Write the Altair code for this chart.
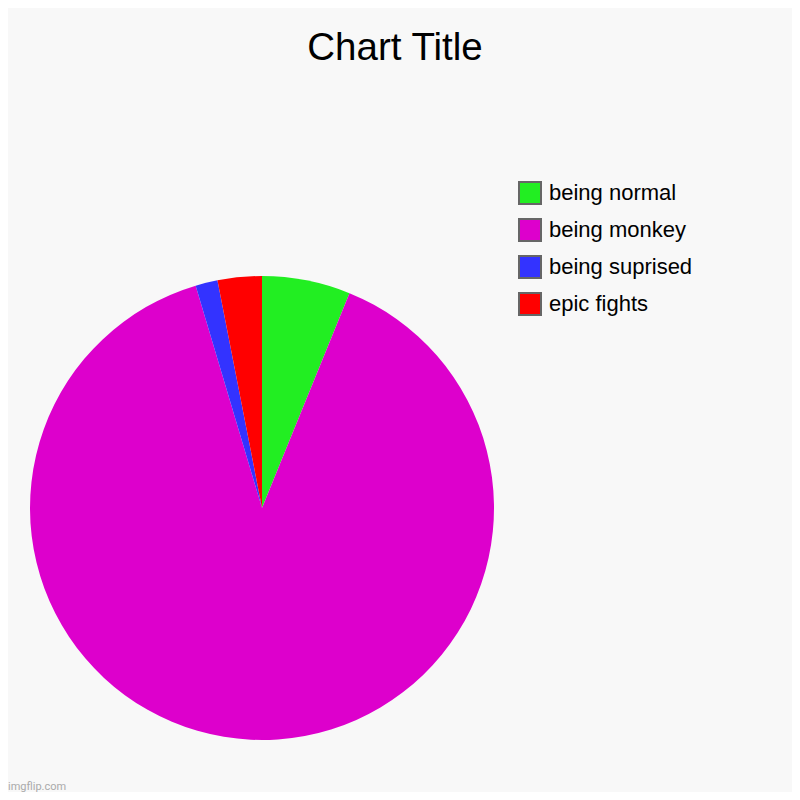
import pandas as pd
import altair as alt

# pie data
labels = ["being normal", "being monkey", "being suprised", "epic fights"]
values = [4, 58, 1, 2]
colors = ["#22ee22", "#dd00cc", "#3333ff", "#ff0000"]

chart_title = "Chart Title"
watermark = "imgflip.com"

df = pd.DataFrame({"label": labels, "value": values, "rank": list(range(len(labels)))})

pie = alt.Chart(df).mark_arc(radius=232).encode(
    theta=alt.Theta("value:Q", stack=True),
    color=alt.Color(
        "label:N",
        scale=alt.Scale(domain=labels, range=colors),
        legend=alt.Legend(
            title=None, orient="none", legendX=510, legendY=173,
            symbolType="square", symbolSize=484,
            symbolStrokeColor="#666666", symbolStrokeWidth=2,
            labelFontSize=22, labelFont="Liberation Sans", labelColor="#000000",
            labelOffset=7, rowPadding=7,
        ),
    ),
    order=alt.Order("rank:Q"),
    x=alt.value(254),
    y=alt.value(500),
)

title = alt.Chart(pd.DataFrame({"t": [chart_title]})).mark_text(
    font="Liberation Sans", fontSize=38.5, color="#000000", baseline="alphabetic", align="center"
).encode(text="t:N", x=alt.value(387), y=alt.value(52))

mark = alt.Chart(pd.DataFrame({"t": [watermark]})).mark_text(
    font="Roboto", fontSize=11, color="#aaaaaa", baseline="alphabetic", align="left"
).encode(text="t:N", x=alt.value(0), y=alt.value(782))

chart = alt.layer(pie, title, mark).properties(
    width=784, height=784, autosize="none", padding=0, background="#f8f8f8"
).configure_view(strokeWidth=0)

chart.save("out.html", embed_options={"renderer": "svg", "actions": False})
